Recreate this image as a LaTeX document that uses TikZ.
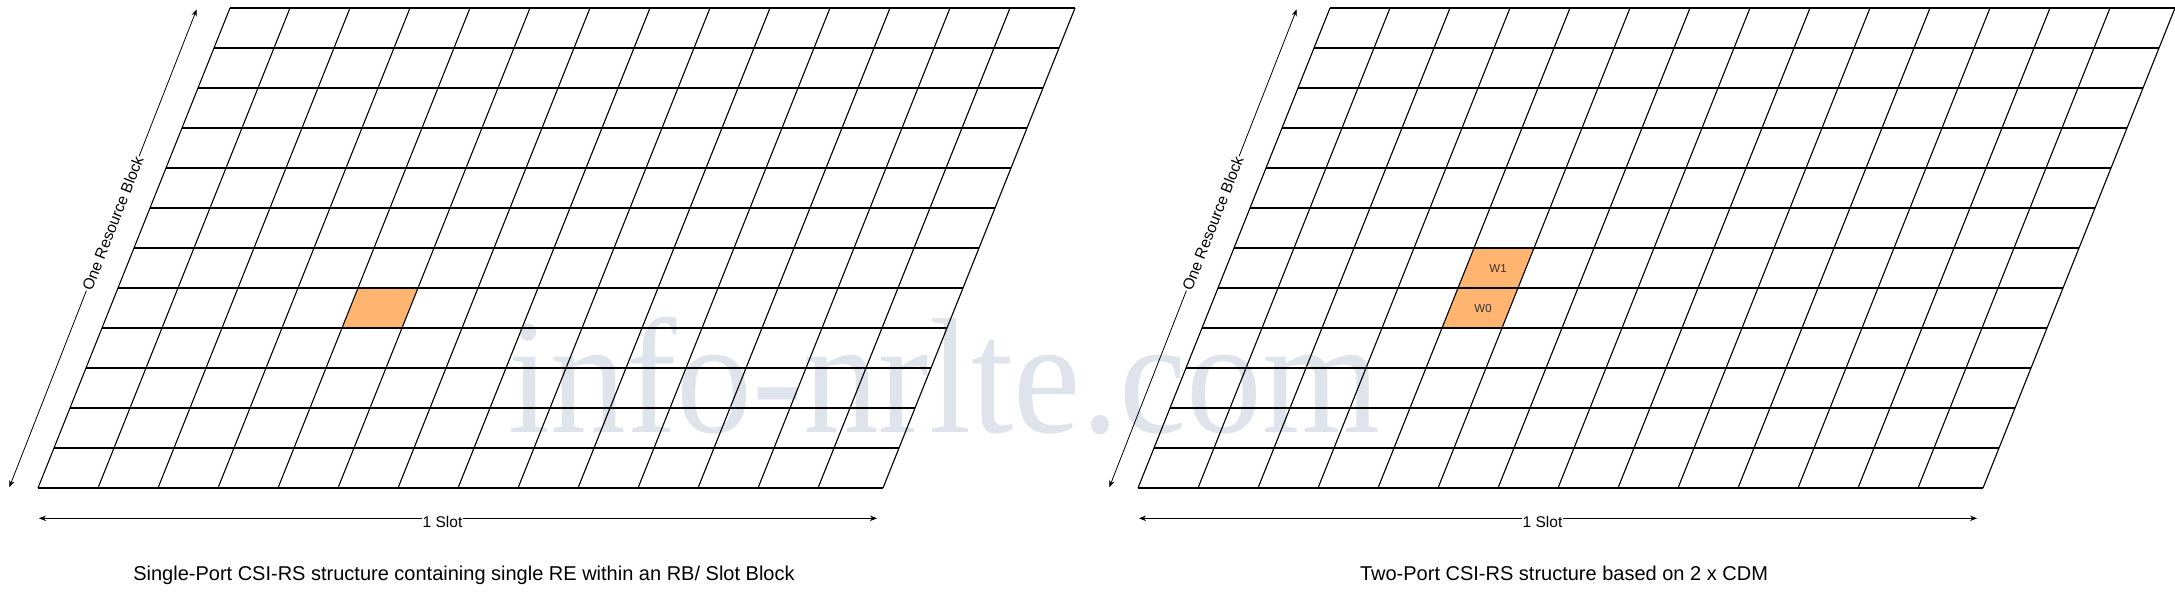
\documentclass[tikz,border=0pt]{standalone}
\usepackage{fontspec}
\setmainfont{Liberation Sans}
\newfontfamily\wmfont[FakeStretch=0.925]{Liberation Serif}
\usetikzlibrary{arrows.meta}
\definecolor{cellorange}{RGB}{255,181,112}
\definecolor{wmcolor}{RGB}{222,227,236}
\definecolor{wtext}{RGB}{51,51,51}
\begin{document}
\begin{tikzpicture}[x=1pt,y=-1pt,
  gridline/.style={line width=1.1pt, black},
  dimarrow/.style={line width=0.8pt, {Stealth[length=7pt,width=5.5pt]}-{Stealth[length=7pt,width=5.5pt]}},
  dimlabel/.style={fill=white, inner sep=1pt, font=\fontsize{15.5}{18}\selectfont},
  captext/.style={font=\fontsize{20}{24}\selectfont, anchor=base, inner sep=0pt},
  wlabel/.style={font=\fontsize{11.5}{13}\selectfont, text=wtext, inner sep=0pt},
  recell/.style={fill=cellorange, draw=none}]
\useasboundingbox (0,0) rectangle (2175,599);

% watermark
\node[anchor=base west, inner sep=0pt, text=wmcolor, font=\wmfont\fontsize{164}{170}\selectfont] (wm) at (508,432) {info-nrlte.com};

% ---------- left panel ----------
\fill[recell] (358,288) -- (418,288) -- (402,328) -- (342,328) -- cycle;
\foreach \i in {0,...,12} \draw[gridline] ({230-16*\i},{8+40*\i}) -- ++(845,0);
\foreach \k in {0,...,13} \draw[gridline] ({230+60*\k},8) -- ({38+60*\k},488);
\draw[gridline] (1075,8) -- (883,488);
\coordinate (rbLa) at (9.3,487.3);
\coordinate (rbLb) at (196.7,9.3);
\draw[dimarrow] (rbLa) -- node[dimlabel, sloped, pos=0.552] (rbLlab) {One Resource Block} (rbLb);
\coordinate (slLa) at (39,518.3);
\coordinate (slLb) at (877,518.3);
\draw[dimarrow] (slLa) -- node[dimlabel, pos=0.4815, yshift=-4pt] (slLlab) {1 Slot} (slLb);
\node[captext] (capL) at (464,580.5) {Single-Port CSI-RS structure containing single RE within an RB/ Slot Block};

% ---------- right panel ----------
\begin{scope}[xshift=1100pt]
\fill[recell] (374,248) -- (434,248) -- (402,328) -- (342,328) -- cycle;
\foreach \i in {0,...,12} \draw[gridline] ({230-16*\i},{8+40*\i}) -- ++(845,0);
\foreach \k in {0,...,13} \draw[gridline] ({230+60*\k},8) -- ({38+60*\k},488);
\draw[gridline] (1075,8) -- (883,488);
\node[wlabel] (w1) at (398,269) {W1};
\node[wlabel] (w0) at (383,309) {W0};
\coordinate (rbRa) at (9.3,487.3);
\coordinate (rbRb) at (196.7,9.3);
\draw[dimarrow] (rbRa) -- node[dimlabel, sloped, pos=0.552] (rbRlab) {One Resource Block} (rbRb);
\coordinate (slRa) at (39,518.3);
\coordinate (slRb) at (877,518.3);
\draw[dimarrow] (slRa) -- node[dimlabel, pos=0.4815, yshift=-4pt] (slRlab) {1 Slot} (slRb);
\end{scope}
\node[captext] (capR) at (1564,580.5) {Two-Port CSI-RS structure based on 2 x CDM};
\end{tikzpicture}
\end{document}
